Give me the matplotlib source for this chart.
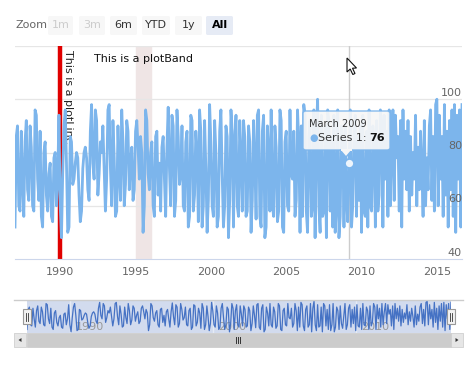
import matplotlib
matplotlib.use("Agg")
import matplotlib.pyplot as plt
from matplotlib.patches import Rectangle, FancyBboxPatch, Polygon

# =========================
# DATA (monthly, Jan 1987 .. Sep 2016)
# =========================
START_YEAR = 1987
values = [
    52, 86, 90, 60, 58, 88, 70, 56, 84, 92, 66, 62,   # 1987
    90, 82, 60, 58, 96, 94, 70, 62, 88, 56, 52, 80,   # 1988
    84, 64, 58, 72, 76, 56, 54, 78, 80, 60, 70, 94,   # 1989
    60, 48, 72, 90, 96, 76, 50, 52, 86, 84, 68, 70,   # 1990
    76, 80, 78, 64, 54, 58, 74, 80, 82, 78, 66, 62,   # 1991
    88, 98, 76, 70, 96, 92, 64, 72, 84, 80, 90, 74,   # 1992
    58, 70, 96, 98, 74, 60, 92, 78, 56, 58, 90, 72,   # 1993
    62, 96, 84, 60, 68, 92, 88, 66, 76, 82, 62, 66,   # 1994
    88, 92, 82, 70, 86, 80, 50, 60, 96, 92, 72, 66,   # 1995
    80, 84, 60, 56, 86, 88, 64, 76, 58, 82, 86, 70,   # 1996
    56, 82, 97, 74, 60, 94, 90, 56, 62, 96, 86, 68,   # 1997
    72, 90, 60, 58, 84, 88, 52, 56, 94, 92, 58, 64,   # 1998
    88, 80, 54, 96, 88, 52, 60, 92, 74, 50, 62, 98,   # 1999
    84, 60, 56, 92, 80, 52, 56, 88, 96, 72, 52, 60,   # 2000
    90, 86, 48, 62, 96, 88, 52, 84, 94, 60, 56, 92,   # 2001
    78, 58, 92, 86, 56, 58, 90, 84, 50, 62, 92, 76,   # 2002
    55, 94, 96, 56, 52, 88, 94, 48, 52, 90, 80, 58,   # 2003
    96, 60, 56, 90, 82, 54, 58, 96, 92, 52, 50, 84,   # 2004
    88, 60, 58, 96, 72, 70, 88, 56, 62, 96, 84, 50,   # 2005
    90, 56, 98, 94, 58, 50, 86, 92, 56, 60, 96, 48,   # 2006
    88, 100, 60, 50, 94, 56, 58, 90, 48, 96, 92, 58,  # 2007
    86, 52, 94, 50, 60, 96, 48, 56, 90, 84, 52, 92,   # 2008
    62, 54, 76, 96, 52, 60, 88, 94, 56, 86, 62, 90,   # 2009
    50, 94, 58, 56, 88, 52, 96, 60, 58, 90, 84, 52,   # 2010
    92, 58, 64, 96, 90, 52, 94, 70, 88, 56, 96, 60,   # 2011
    82, 96, 62, 94, 78, 86, 58, 92, 52, 96, 70, 88,   # 2012
    66, 92, 58, 86, 64, 80, 70, 94, 60, 82, 66, 88,   # 2013
    74, 56, 92, 60, 78, 66, 90, 96, 62, 86, 58, 98,   # 2014
    100, 60, 94, 70, 86, 56, 98, 64, 88, 52, 92, 66,  # 2015
    96, 56, 98, 50, 94, 70, 96, 52, 98,               # 2016
]
dates = [START_YEAR + i / 12.0 for i in range(len(values))]

x_ticks = [1990, 1995, 2000, 2005, 2010, 2015]
y_ticks = [40, 60, 80, 100, 120]
nav_ticks = [1990, 2000, 2010]
buttons = ["1m", "3m", "6m", "YTD", "1y", "All"]
button_state = ["off", "off", "on", "on", "on", "sel"]
hover_idx = (2009 - START_YEAR) * 12 + 2   # March 2009

W, H = 474, 366
SERIES = "#7cb5ec"

def fx(x):
    return x / W

def fy(y):
    return 1 - y / H

fig = plt.figure(figsize=(W / 100, H / 100), dpi=100)

# =========================
# MAIN CHART
# =========================
L, R, T, B = 15, 462, 46, 259
ax = fig.add_axes([fx(L), fy(B), fx(R - L), (B - T) / H])
ax.set_xlim(dates[0], dates[-1])
ax.set_ylim(40, 120)

ax.axvspan(1995, 1996, color="#efe5e5", zorder=0)
ax.axvline(1990, color="#e00000", lw=3.2, zorder=1)
ax.text(1990.2, 118.5, "This is a plotLine", rotation=-90, fontsize=8,
        color="#222222", ha="left", va="top", zorder=1)
ax.text(1995.5, 115, "This is a plotBand", fontsize=8, color="#111111",
        ha="center", va="center", zorder=3)

for v in y_ticks[1:]:
    ax.axhline(v, color="#e6e6e6", lw=0.9, zorder=0.5)

ax.plot(dates, values, color=SERIES, lw=2.0, zorder=2, solid_joinstyle="round")

# crosshair + hover marker
hx = dates[hover_idx]
ax.axvline(hx, color="#cccccc", lw=1, zorder=1.5)
ax.plot([hx], [values[hover_idx]], "o", ms=6.5, mfc="#eef5fc", mec=SERIES,
        mew=1.3, zorder=4)

for s in ["top", "left", "right"]:
    ax.spines[s].set_visible(False)
ax.spines["bottom"].set_color("#ccd6eb")
ax.set_xticks(x_ticks)
ax.set_xticklabels([str(t) for t in x_ticks])
ax.tick_params(axis="x", length=0, pad=6, labelsize=8, colors="#666666")
ax.set_yticks([])

for v in y_ticks[:-1]:
    ax.text(1.0, (v - 40) / 80 + 0.006, str(v), transform=ax.transAxes,
            ha="right", va="bottom", fontsize=8, color="#666666")

# =========================
# TOOLTIP
# =========================
tip = FancyBboxPatch((fx(303), fy(150)), fx(87), (150 - 111) / H,
                     boxstyle="round,pad=0,rounding_size=0.006",
                     transform=fig.transFigure, fc="#f7f7f7", ec=SERIES,
                     lw=1, alpha=0.92, zorder=10)
fig.patches.append(tip)
arrow = Polygon([[fx(340), fy(150)], [fx(346), fy(157)], [fx(352), fy(150)]],
                closed=True, transform=fig.transFigure, fc="#f7f7f7",
                ec=SERIES, lw=1, zorder=10)
fig.patches.append(arrow)
fig.patches.append(Rectangle((fx(340.5), fy(150.8)), fx(11), 1.6 / H,
                             transform=fig.transFigure, fc="#f7f7f7",
                             ec="none", zorder=11))
fig.text(fx(309), fy(124), "March 2009", fontsize=7, color="#333333",
         va="center", zorder=12)
fig.text(fx(309), fy(138), "\u25cf", fontsize=7, color=SERIES,
         va="center", zorder=12)
fig.text(fx(318), fy(138), "Series 1: ", fontsize=8, color="#333333",
         va="center", zorder=12)
fig.text(fx(369), fy(138), "76", fontsize=8, color="#111111",
         fontweight="bold", va="center", zorder=12)

# =========================
# NAVIGATOR
# =========================
NL, NR, NT, NB = 27, 451, 300, 333
fig.add_artist(plt.Line2D([fx(14), fx(463)], [fy(NT), fy(NT)],
                          transform=fig.transFigure, color="#cccccc", lw=1))
nav = fig.add_axes([fx(NL), fy(NB), fx(NR - NL), (NB - NT) / H])
nav.set_facecolor("#d2dbee")
nav.set_xlim(dates[0], dates[-1])
nav.set_ylim(min(values) - 2, max(values) + 2)
for t in nav_ticks:
    nav.axvline(t, color="#e6ebf5", lw=1, zorder=0)
    nav.text(t + 0.4, min(values) - 1, str(t), fontsize=8, color="#999999",
             ha="left", va="bottom", zorder=0.5)
nav.plot(dates, values, color="#4572c4", lw=0.9, zorder=1)
for s in nav.spines.values():
    s.set_visible(False)
nav.set_xticks([])
nav.set_yticks([])

# handles
for hxp in [NL, NR]:
    fig.patches.append(Rectangle((fx(hxp - 4), fy(324)), fx(8), 15 / H,
                                 transform=fig.transFigure, fc="#f2f2f2",
                                 ec="#999999", lw=0.8, zorder=5))
    for dx in [-1.2, 1.2]:
        fig.add_artist(plt.Line2D([fx(hxp + dx), fx(hxp + dx)], [fy(313), fy(321)],
                                  transform=fig.transFigure, color="#333333",
                                  lw=0.6, zorder=6))

# scrollbar
fig.patches.append(Rectangle((fx(14), fy(347)), fx(449), 14 / H,
                             transform=fig.transFigure, fc="#eeeeee",
                             ec="#eeeeee", lw=0.5))
fig.patches.append(Rectangle((fx(NL), fy(347)), fx(NR - NL), 14 / H,
                             transform=fig.transFigure, fc="#cccccc",
                             ec="#cccccc", lw=0.5))
for bx in [14, NR]:
    fig.patches.append(Rectangle((fx(bx), fy(347)), fx(12), 14 / H,
                                 transform=fig.transFigure, fc="#e6e6e6",
                                 ec="#cccccc", lw=0.5))
fig.patches.append(Polygon([[fx(21.5), fy(338)], [fx(18.5), fy(340)], [fx(21.5), fy(342)]],
                           transform=fig.transFigure, fc="#333333", ec="none"))
fig.patches.append(Polygon([[fx(455.5), fy(338)], [fx(458.5), fy(340)], [fx(455.5), fy(342)]],
                           transform=fig.transFigure, fc="#333333", ec="none"))
for gx in [-2.5, 0, 2.5]:
    fig.add_artist(plt.Line2D([fx(238 + gx), fx(238 + gx)], [fy(337), fy(343)],
                              transform=fig.transFigure, color="#333333", lw=0.7))

# =========================
# RANGE SELECTOR
# =========================
fig.text(fx(15), fy(25), "Zoom", fontsize=8, color="#666666", va="center")
btn_x = [48, 79, 110, 142, 175, 206]
btn_w = [25, 26, 27, 28, 27, 27]
for lab, st, bx, bw in zip(buttons, button_state, btn_x, btn_w):
    fc = "#e6ebf5" if st == "sel" else "#f7f7f7"
    fig.patches.append(FancyBboxPatch((fx(bx), fy(35)), fx(bw), 19 / H,
                                      boxstyle="round,pad=0,rounding_size=0.004",
                                      transform=fig.transFigure, fc=fc, ec="none"))
    col = {"off": "#cccccc", "on": "#333333", "sel": "#000000"}[st]
    fig.text(fx(bx + bw / 2), fy(25.5), lab, fontsize=8, color=col,
             ha="center", va="center",
             fontweight="bold" if st == "sel" else "normal")

# mouse cursor
cx, cy = 347, 58
shape = [(0, 0), (0, 14), (3.2, 11), (5.8, 16.5), (8, 15.5), (5.5, 10.2), (9.5, 10)]
fig.patches.append(Polygon([[fx(cx + a), fy(cy + b)] for a, b in shape],
                           transform=fig.transFigure, fc="white", ec="#111111",
                           lw=0.8, zorder=20))

fig.savefig("out.png", dpi=100)
